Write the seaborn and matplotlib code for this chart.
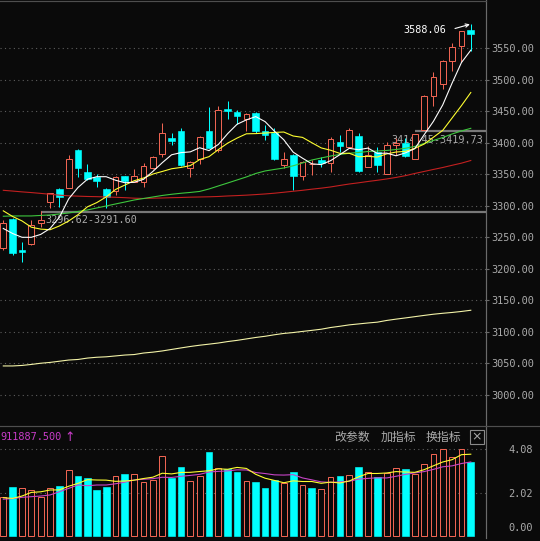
import numpy as np
import pandas as pd
import matplotlib
matplotlib.use("Agg")
import matplotlib.pyplot as plt
from matplotlib.lines import Line2D
from matplotlib.patches import Rectangle
import seaborn as sns

# ---------------- data ----------------
opens = [3233, 3279, 3230, 3239, 3272, 3306, 3327, 3329, 3389, 3353,
         3345, 3327, 3324, 3347, 3338, 3338, 3360, 3382, 3408, 3419,
         3360, 3374, 3419, 3389, 3454, 3449, 3438, 3447, 3418, 3416,
         3365, 3381, 3347, 3366, 3373, 3368, 3402, 3394, 3411, 3362,
         3386, 3351, 3397, 3400, 3375, 3420, 3475, 3493, 3530, 3553, 3579]
highs = [3278, 3281, 3243, 3278, 3291.6, 3321, 3328, 3381, 3390, 3366,
         3351, 3328, 3347, 3348, 3358, 3368, 3379, 3431, 3415, 3423,
         3371, 3411, 3457, 3458, 3466, 3452, 3447, 3449, 3428, 3423,
         3386, 3383, 3371, 3373, 3378, 3410, 3412, 3423, 3416, 3395,
         3393, 3401, 3407, 3407, 3414.45, 3476, 3513, 3531, 3558, 3578, 3588.06]
lows = [3230, 3222, 3211, 3238, 3267, 3296.62, 3298, 3328, 3346, 3341,
        3330, 3297, 3317, 3325, 3337, 3330, 3358, 3378, 3396, 3363,
        3345, 3366, 3391, 3386, 3437, 3430, 3418, 3416, 3404, 3372,
        3360, 3325, 3341, 3349, 3362, 3354, 3386, 3391, 3354, 3361,
        3354, 3350, 3381, 3377, 3374, 3419.73, 3458, 3486, 3514, 3529, 3546]
closes = [3273, 3225, 3227, 3270, 3278, 3320, 3314, 3374, 3360, 3343,
          3340, 3314, 3346, 3340, 3347, 3363, 3377, 3415, 3403, 3364,
          3369, 3410, 3392, 3452, 3450, 3443, 3445, 3418, 3412, 3374,
          3375, 3347, 3370, 3367, 3368, 3406, 3395, 3420, 3356, 3381,
          3364, 3397, 3399, 3379, 3414, 3474, 3504, 3530, 3552, 3577, 3572]
volumes = [1.83, 2.33, 2.25, 2.17, 1.86, 2.25, 2.36, 3.11, 2.84, 2.72,
           2.17, 2.33, 2.83, 2.91, 2.92, 2.56, 2.64, 3.76, 2.75, 3.26,
           2.59, 2.83, 3.94, 3.19, 3.16, 3.03, 2.59, 2.56, 2.28, 2.64,
           2.49, 3.03, 2.41, 2.28, 2.22, 2.77, 2.83, 2.87, 3.26, 3.00,
           2.77, 2.95, 3.19, 3.16, 2.92, 3.39, 3.86, 4.09, 3.70, 4.09, 3.50]

# moving-average values before enough bars are visible
ma5_head = [3264, 3256, 3250, 3250]
ma10_head = [3292, 3283, 3276, 3266, 3263, 3262, 3268, 3276, 3286]
vol_ma5_head = [1.81, 1.78, 1.89, 2.06]
vol_ma10_head = [1.74, 1.77, 1.83, 1.86, 1.89, 1.94, 2.09, 2.25, 2.41]

# longer averages
ma_green = [3283.4, 3283.9, 3283.9, 3283.9, 3284.7, 3285.5, 3287.0, 3288.6, 3291.0, 3293.4,
            3296.6, 3299.7, 3302.9, 3306.0, 3309.2, 3311.6, 3314.0, 3316.4, 3318.3, 3319.9,
            3321.2, 3322.8, 3326.7, 3331.5, 3336.2, 3341.0, 3345.8, 3351.3, 3355.3, 3357.7,
            3360.0, 3363.5, 3368.0, 3372.7, 3375.9, 3379.0, 3381.5, 3383.4, 3384.6, 3386.2,
            3387.0, 3387.8, 3389.4, 3391.3, 3394.2, 3398.9, 3403.7, 3408.4, 3414.0, 3418.8, 3423.0]
ma_red = [3324.6, 3323.4, 3322.1, 3321.0, 3319.7, 3318.3, 3316.9, 3315.9, 3315.3, 3314.8,
          3314.5, 3314.0, 3313.5, 3312.9, 3312.1, 3311.6, 3312.1, 3312.4, 3312.9, 3313.2,
          3313.7, 3314.0, 3314.3, 3314.8, 3315.6, 3316.2, 3316.9, 3317.8, 3318.8, 3320.0,
          3321.5, 3323.1, 3324.6, 3326.4, 3328.0, 3329.9, 3332.3, 3334.6, 3336.5, 3338.6,
          3340.5, 3342.6, 3345.0, 3347.8, 3351.3, 3354.5, 3357.7, 3360.8, 3364.3, 3367.7, 3371.9]
ma_long = [3045.8, 3045.8, 3046.6, 3048.2, 3050.1, 3051.4, 3053.3, 3055.2, 3056.1, 3058.3,
           3059.6, 3060.3, 3061.7, 3063.1, 3063.9, 3066.3, 3067.7, 3069.6, 3072.0, 3074.4,
           3076.7, 3078.7, 3080.4, 3082.2, 3084.5, 3086.4, 3088.7, 3091.0, 3092.9, 3095.3,
           3097.4, 3098.8, 3100.6, 3102.3, 3104.1, 3106.8, 3108.8, 3111.0, 3112.5, 3114.0,
           3115.3, 3118.0, 3120.1, 3122.0, 3124.0, 3126.0, 3127.9, 3129.4, 3130.7, 3132.3, 3134.2]

price_ticks = [3000, 3050, 3100, 3150, 3200, 3250, 3300, 3350, 3400, 3450, 3500, 3550]
vol_ticks = [2.02, 4.08]
gap_labels = ["3296.62-3291.60", "3414.45-3419.73"]
gap_start = [4, 44]
gap_level = [3290.5, 3419.3]
high_label = "3588.06"
vol_header = "911887.500"
menu_items = ["改参数", "加指标", "换指标"]

# ---------------- style ----------------
BG = "#0a0a0a"
UP = "#ee6452"
DOWN = "#00ffff"
GRID = "#5e5e5e"
AXC = "#6a6a6a"
TXT = "#aaaaaa"
PX = 0.72  # one pixel in points

plt.rcParams["font.family"] = ["DejaVu Sans Mono"]

W, H = 540.0, 541.0
def fx(px): return px / W
def fy(py): return 1 - py / H

fig = plt.figure(figsize=(5.40, 5.41), dpi=100, facecolor=BG)

ax = fig.add_axes([0, fy(425), fx(486), 425 / H])
axv = fig.add_axes([0, fy(538), fx(486), (538 - 426) / H])

n = len(closes)
idx = np.arange(n)
df = pd.DataFrame(dict(i=idx, o=opens, h=highs, l=lows, c=closes, v=volumes))

STEP = 9.35
X0 = 3.3
xlim = (-X0 / STEP, (486 - X0) / STEP)
PP = 50 / 31.5      # price per pixel
Y3550 = 48.3
ylim = (3550 - (425 - Y3550) * PP, 3550 + Y3550 * PP)

for a in (ax, axv):
    a.set_facecolor(BG)
    for s in a.spines.values():
        s.set_visible(False)
    a.spines["right"].set_visible(True)
    a.spines["right"].set_color(AXC)
    a.spines["right"].set_linewidth(1.2 * PX)
    a.set_xlim(*xlim)
    a.set_xticks([])

ax.set_ylim(*ylim)

# ---------------- candles ----------------
for r in df.itertuples():
    if r.c >= r.o:
        ax.vlines(r.i, r.c, r.h, color=UP, lw=1.0 * PX, zorder=2)
        ax.vlines(r.i, r.l, r.o, color=UP, lw=1.0 * PX, zorder=2)
        ax.bar(r.i, r.c - r.o, bottom=r.o, width=0.62, facecolor=BG,
               edgecolor=UP, linewidth=1.0 * PX, zorder=2.5)
    else:
        ax.vlines(r.i, r.l, r.h, color=DOWN, lw=1.0 * PX, zorder=2)
        ax.bar(r.i, r.o - r.c, bottom=r.c, width=0.72, facecolor=DOWN,
               edgecolor=DOWN, linewidth=0.6 * PX, zorder=2.5)

# ---------------- moving averages ----------------
cs = pd.Series(closes, dtype=float)
ma5 = cs.rolling(5).mean().to_numpy()
ma5[:4] = ma5_head
ma10 = cs.rolling(10).mean().to_numpy()
ma10[:9] = ma10_head

lines = [(ma_long, "#f4f4a8"), (ma_red, "#c42020"), (ma_green, "#3ec83e"),
         (ma10, "#ffff30"), (ma5, "#ffffff")]
for vals, col in lines:
    sns.lineplot(x=idx, y=vals, ax=ax, color=col, linewidth=1.1 * PX, zorder=4)

# gap markers
for s, lvl, lab in zip(gap_start, gap_level, gap_labels):
    ax.hlines(lvl, s, xlim[1], color="#787878", lw=2.2 * PX, zorder=1.8)
ax.text((45 - X0) / STEP, 3550 - (220 - Y3550) * PP, gap_labels[0], ha="left",
        va="center", color=TXT, fontsize=7.3, zorder=1.5)
ax.text((483.5 - X0) / STEP, 3550 - (140 - Y3550) * PP, gap_labels[1], ha="right",
        va="center", color=TXT, fontsize=7.3, zorder=1.5)

# high label
ax.text((446 - X0) / STEP, 3550 - (30 - Y3550) * PP, high_label, ha="right",
        va="center", color="white", fontsize=7.3, zorder=5)
ax.annotate("", xy=(n - 1 - 0.1, highs[-1]),
            xytext=((455 - X0) / STEP, 3550 - (28.5 - Y3550) * PP),
            arrowprops=dict(arrowstyle="->", color="white", lw=0.8,
                            shrinkA=0, shrinkB=0, mutation_scale=6), zorder=5)

# price axis
ax.set_yticks(price_ticks)
ax.set_yticklabels([f"{v:.2f}" for v in price_ticks])
ax.yaxis.tick_right()
ax.tick_params(axis="y", colors=AXC, labelcolor=TXT, length=2.2, width=0.8,
               pad=1.3, labelsize=7.4)
ax.grid(axis="y", color=GRID, linestyle=(0, (1, 3)), linewidth=0.8)
ax.set_ylabel("")
ax.set_xlabel("")

# ---------------- volume panel ----------------
vol_up = [closes[0] >= opens[0]] + [closes[k] >= closes[k - 1] for k in range(1, n)]
for k in range(n):
    if vol_up[k]:
        axv.bar(k, volumes[k], width=0.62, facecolor=BG, edgecolor=UP,
                linewidth=1.0 * PX, zorder=2)
    else:
        axv.bar(k, volumes[k], width=0.72, facecolor=DOWN, edgecolor=DOWN,
                linewidth=0.6 * PX, zorder=2)

vs = pd.Series(volumes, dtype=float)
vma5 = vs.rolling(5).mean().to_numpy()
vma5[:4] = vol_ma5_head
vma10 = vs.rolling(10).mean().to_numpy()
vma10[:9] = vol_ma10_head
sns.lineplot(x=idx, y=vma10, ax=axv, color="#c844c8", linewidth=1.1 * PX, zorder=4)
sns.lineplot(x=idx, y=vma5, ax=axv, color="#ffff30", linewidth=1.1 * PX, zorder=4)

VPX = 21.36  # pixels per unit
V0 = 536.4
axv.set_ylim((V0 - 538) / VPX, (V0 - 426) / VPX)
axv.set_yticks(vol_ticks)
axv.set_yticklabels([f"{v:.2f}" for v in vol_ticks])
axv.yaxis.tick_right()
axv.tick_params(axis="y", colors=AXC, labelcolor=TXT, length=0, pad=47 / 1.389,
                labelsize=7.4)
for t in axv.get_yticklabels():
    t.set_horizontalalignment("right")
axv.grid(axis="y", color=GRID, linestyle=(0, (1, 3)), linewidth=0.8)
axv.set_ylabel("")
axv.set_xlabel("")

fig.text(fx(533), fy(528), "0.00", ha="right", va="center", color=TXT, fontsize=7.4)

# volume header
fig.text(fx(0.5), fy(437.5), vol_header, ha="left", va="center", color="#c83cc8",
         fontsize=7.4)
fig.text(fx(70), fy(437.5), "↑", ha="center", va="center", color="#c83cc8",
         fontsize=9, family=["DejaVu Sans"])
for cx, t in zip([352, 398, 443], menu_items):
    fig.text(fx(cx), fy(437.5), t, ha="center", va="center", color=TXT,
             fontsize=8.6, family=["Noto Sans CJK SC", "DejaVu Sans"])
fig.patches.append(Rectangle((fx(469.5), fy(444)), fx(14), 14 / H,
                             transform=fig.transFigure, fill=False,
                             edgecolor="#8a8a8a", linewidth=0.8))
fig.text(fx(476.5), fy(437), "×", ha="center", va="center", color=TXT,
         fontsize=9, family=["DejaVu Sans"])

# frame lines
fig.add_artist(Line2D([0, 1], [fy(425.5)] * 2, transform=fig.transFigure,
                      color="#4e4e4e", lw=1.2 * PX))
fig.add_artist(Line2D([0, fx(486)], [fy(0.8)] * 2, transform=fig.transFigure,
                      color="#4e4e4e", lw=1.2 * PX))

fig.savefig("out.png", dpi=100, facecolor=BG)
